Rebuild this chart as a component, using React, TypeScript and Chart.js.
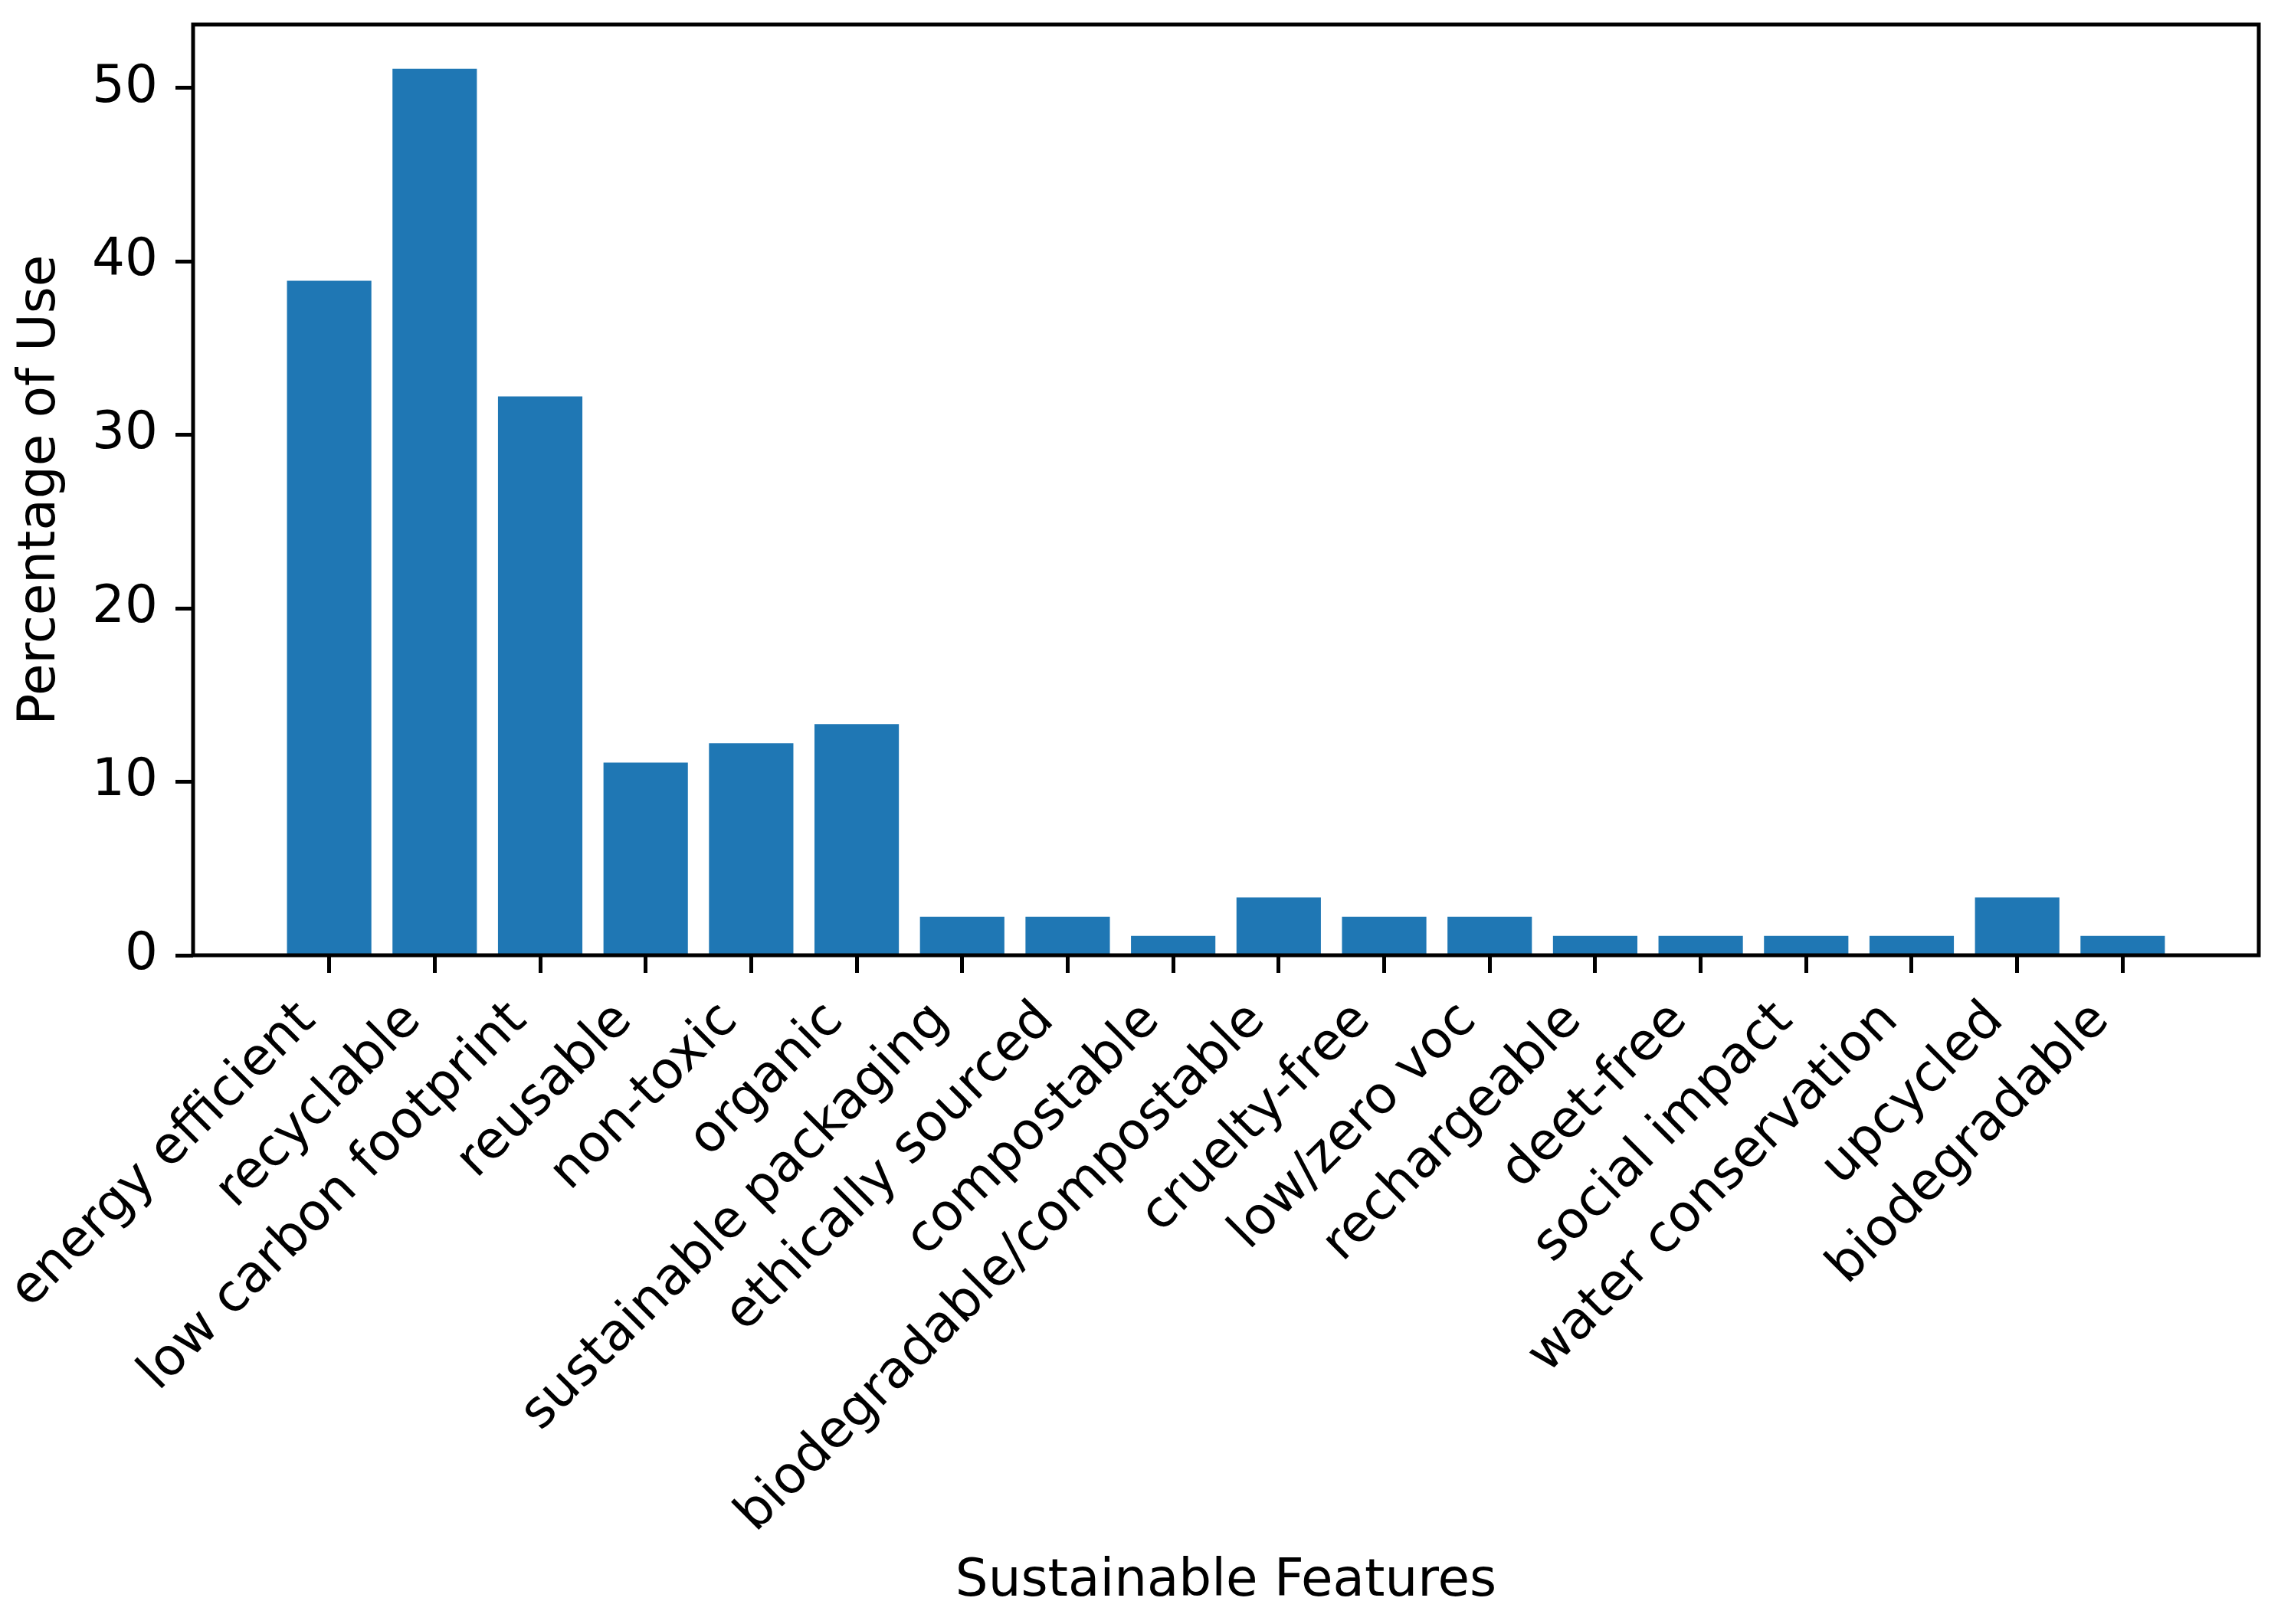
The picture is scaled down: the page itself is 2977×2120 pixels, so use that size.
import React, { useEffect, useRef } from 'react';
import { Chart, registerables } from 'chart.js';

Chart.register(...registerables);

const categories = [
  'energy efficient',
  'recyclable',
  'low carbon footprint',
  'reusable',
  'non-toxic',
  'organic',
  'sustainable packaging',
  'ethically sourced',
  'compostable',
  'biodegradable/compostable',
  'cruelty-free',
  'low/zero voc',
  'rechargeable',
  'deet-free',
  'social impact',
  'water conservation',
  'upcycled',
  'biodegradable',
];

const values = [
  38.89, 51.11, 32.22, 11.11, 12.22, 13.33, 2.22, 2.22, 1.11,
  3.33, 2.22, 2.22, 1.11, 1.11, 1.11, 1.11, 3.33, 1.11,
];

const yTicks = [0, 10, 20, 30, 40, 50];

const xTitle = 'Sustainable Features';
const yTitle = 'Percentage of Use';

const W = 2977;
const H = 2120;
const FONT = 'DejaVu Sans';
const FS = 67.5;

export default function App() {
  const ref = useRef<HTMLCanvasElement>(null);

  useEffect(() => {
    const canvas = ref.current;
    if (!canvas) return;
    const n = categories.length;
    const lo = -0.4;
    const hi = n - 1 + 0.4;
    const m = 0.05 * (hi - lo);
    const ymax = Math.max(...values) * 1.05;

    const frame = {
      id: 'frame',
      afterDatasetsDraw(chart: any) {
        const { ctx, chartArea: a } = chart;
        ctx.save();
        ctx.strokeStyle = '#000';
        ctx.lineWidth = 5;
        ctx.strokeRect(a.left, a.top, a.right - a.left, a.bottom - a.top);
        ctx.restore();
      },
    };

    const font = { family: FONT, size: FS };

    const chart = new Chart(canvas, {
      type: 'bar',
      data: {
        datasets: [
          {
            data: values.map((v, i) => ({ x: i, y: v })),
            backgroundColor: '#1f77b4',
            borderWidth: 0,
            barPercentage: 0.8,
            categoryPercentage: 1,
          },
        ],
      },
      options: {
        animation: false,
        responsive: false,
        devicePixelRatio: 1,
        layout: { padding: { left: 0, top: 32, right: 29, bottom: 0 } },
        plugins: { legend: { display: false }, tooltip: { enabled: false } },
        scales: {
          x: {
            type: 'linear',
            min: lo - m,
            max: hi + m,
            offset: false,
            afterBuildTicks: (s: any) => {
              s.ticks = categories.map((_, i) => ({ value: i }));
            },
            afterFit: (s: any) => {
              s.height = 873;
              s.paddingLeft = 0;
              s.paddingRight = 0;
            },
            grid: {
              drawOnChartArea: false,
              drawTicks: true,
              tickLength: 23,
              tickWidth: 5,
              tickColor: '#000',
              offset: false,
            },
            border: { display: false },
            ticks: {
              autoSkip: false,
              minRotation: 45,
              maxRotation: 45,
              padding: 23,
              labelOffset: -28,
              font,
              color: '#000',
              callback: (v: any) => categories[v as number] ?? '',
            },
            title: {
              display: true,
              text: xTitle,
              font,
              color: '#000',
              padding: { top: 0, bottom: 14 },
            },
          },
          y: {
            type: 'linear',
            min: 0,
            max: ymax,
            afterBuildTicks: (s: any) => {
              s.ticks = yTicks.map((v) => ({ value: v }));
            },
            afterFit: (s: any) => {
              s.width = 252;
              s.paddingTop = 0;
              s.paddingBottom = 0;
            },
            grid: {
              drawOnChartArea: false,
              drawTicks: true,
              tickLength: 23,
              tickWidth: 5,
              tickColor: '#000',
            },
            border: { display: false },
            ticks: {
              padding: 23,
              font,
              color: '#000',
            },
            title: {
              display: true,
              text: yTitle,
              font,
              color: '#000',
              padding: { top: 13, bottom: 0 },
            },
          },
        },
      },
      plugins: [frame],
    } as any);

    return () => chart.destroy();
  }, []);

  return (
    <div style={{ position: 'fixed', left: 0, top: 0, width: W, height: H, background: '#fff' }}>
      <canvas ref={ref} width={W} height={H} style={{ width: W, height: H, display: 'block' }} />
    </div>
  );
}
